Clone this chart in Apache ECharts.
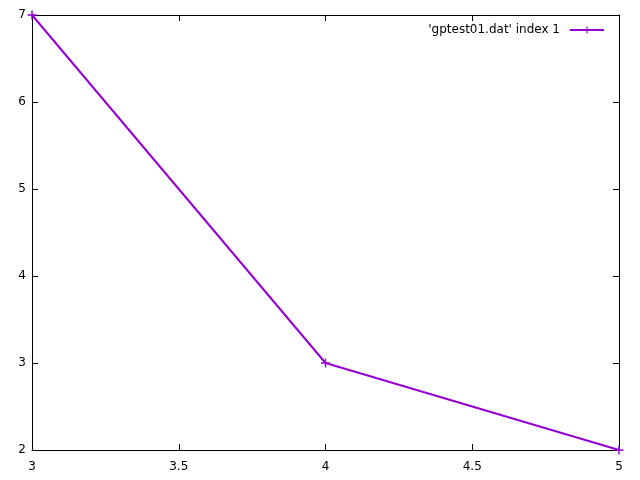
<!DOCTYPE html>
<html>
<head>
<meta charset="utf-8">
<script src="https://cdn.jsdelivr.net/npm/echarts@6/dist/echarts.min.js"></script>
<style>html,body{margin:0;padding:0;background:#fff;}#c{width:640px;height:480px;}</style>
</head>
<body>
<div id="c"></div>
<script>
var seriesName = "'gptest01.dat' index 1";
var xValues = [3, 4, 5];
var yValues = [7, 3, 2];
var xTicks = [3, 3.5, 4, 4.5, 5];
var yTicks = [2, 3, 4, 5, 6, 7];

var color = '#9400D3';
var plusPath = 'path://M0,4.2L4.2,4.2L4.2,0L5.8,0L5.8,4.2L10,4.2L10,5.8L5.8,5.8L5.8,10L4.2,10L4.2,5.8L0,5.8Z';
var font = 'DejaVu Sans';
var data = xValues.map(function (x, i) { return [x, yValues[i]]; });

function axisCommon(show) {
  return {
    axisLine: { show: true, onZero: false, lineStyle: { color: '#000', width: 1 } },
    axisTick: { show: true, inside: true, length: 6, lineStyle: { color: '#000', width: 1 } },
    splitLine: { show: false },
    axisLabel: { show: show, color: '#000', fontFamily: font, fontSize: 12 }
  };
}
var xb = Object.assign({ type: 'value', position: 'bottom', min: xTicks[0], max: xTicks[xTicks.length - 1], interval: 0.5 }, axisCommon(true));
xb.axisLabel.margin = 11;
var xt = Object.assign({ type: 'value', position: 'top', min: xTicks[0], max: xTicks[xTicks.length - 1], interval: 0.5 }, axisCommon(false));
var yl = Object.assign({ type: 'value', position: 'left', min: yTicks[0], max: yTicks[yTicks.length - 1], interval: 1 }, axisCommon(true));
yl.axisLabel.margin = 6;
var yr = Object.assign({ type: 'value', position: 'right', min: yTicks[0], max: yTicks[yTicks.length - 1], interval: 1 }, axisCommon(false));

var chart = echarts.init(document.getElementById('c'), null, { renderer: 'canvas' });
chart.setOption({
  animation: false,
  backgroundColor: '#fff',
  grid: { left: 32, right: 21, top: 15, bottom: 30, containLabel: false },
  legend: {
    right: 35, top: 24,
    padding: 0,
    align: 'right',
    itemWidth: 34, itemHeight: 9,
    textStyle: { color: '#000', fontFamily: font, fontSize: 12, padding: [0, 5, 0, 0] },
    data: [{ name: seriesName }]
  },
  xAxis: [xb, xt],
  yAxis: [yl, yr],
  series: [{
    name: seriesName,
    type: 'line',
    xAxisIndex: 0, yAxisIndex: 0,
    data: data,
    symbol: plusPath,
    symbolSize: 9,
    showAllSymbol: true,
    lineStyle: { color: color, width: 2 },
    itemStyle: { color: color },
    clip: false
  }]
});
</script>
</body>
</html>
